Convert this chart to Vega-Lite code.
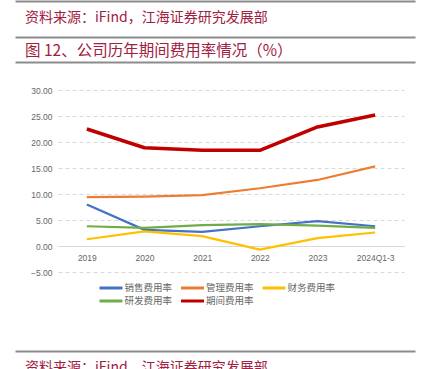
{
  "$schema": "https://vega.github.io/schema/vega-lite/v6.json",
  "background": "white",
  "padding": {"left": 15, "top": 0, "right": 9, "bottom": 0},
  "config": {"font": "Noto Sans CJK SC"},
  "spacing": 11,
  "resolve": {"scale": {"color": "independent"}, "legend": {"color": "independent"}},
  "vconcat": [
    {
      "width": 346, "height": 1,
      "view": {"stroke": null},
      "data": {"values": [{}]},
      "mark": {"type": "point", "opacity": 0, "size": 0, "strokeWidth": 0},
      "encoding": {"x": {"datum": 0, "type": "quantitative", "scale": {"domain": [0, 1], "range": [-43, 357]}, "axis": {"orient": "bottom", "title": null, "labels": false, "ticks": false, "grid": false, "domainColor": "#8c8c8c", "domainWidth": 2}}},
      "title": {"text": "资料来源：iFind，江海证券研究发展部", "frame": "bounds", "orient": "bottom", "anchor": "start", "offset": 10, "dx": 10, "fontSize": 14, "font": "Noto Sans CJK SC", "fontWeight": "normal", "color": "#A0203F"}
    },
    {
      "spacing": 1,
      "resolve": {"scale": {"color": "independent"}, "legend": {"color": "independent"}},
      "vconcat": [
        {
          "width": 346, "height": 1,
          "view": {"stroke": null},
          "data": {"values": [{}]},
          "mark": {"type": "point", "opacity": 0, "size": 0, "strokeWidth": 0},
          "encoding": {"x": {"datum": 0, "type": "quantitative", "scale": {"domain": [0, 1], "range": [-43, 357]}, "axis": {"orient": "bottom", "title": null, "labels": false, "ticks": false, "grid": false, "domainColor": "#8c8c8c", "domainWidth": 2}}},
          "title": {"text": "图 12、公司历年期间费用率情况（%）", "frame": "bounds", "orient": "bottom", "anchor": "start", "offset": 7, "dx": 10, "fontSize": 15.5, "font": "Noto Sans CJK SC", "fontWeight": "normal", "color": "#A0203F"}
        },
        {
          "spacing": 24,
          "resolve": {"scale": {"color": "independent"}, "legend": {"color": "independent"}},
          "vconcat": [
            {
              "width": 346, "height": 1,
              "view": {"stroke": null},
              "data": {"values": [{}]},
              "mark": {"type": "point", "opacity": 0, "size": 0, "strokeWidth": 0},
              "encoding": {"x": {"datum": 0, "type": "quantitative", "scale": {"domain": [0, 1], "range": [-43, 357]}, "axis": {"orient": "bottom", "title": null, "labels": false, "ticks": false, "grid": false, "domainColor": "#8c8c8c", "domainWidth": 2}}}
            },
            {
              "spacing": 43,
              "resolve": {"scale": {"color": "independent"}, "legend": {"color": "independent"}},
              "vconcat": [
                {
                  "width": 346, "height": 182,
                  "view": {"stroke": null},
                  "data": {"values": [
                    {"year": "2019", "series": "销售费用率", "value": 8.0},
                    {"year": "2020", "series": "销售费用率", "value": 3.1},
                    {"year": "2021", "series": "销售费用率", "value": 2.7},
                    {"year": "2022", "series": "销售费用率", "value": 3.8},
                    {"year": "2023", "series": "销售费用率", "value": 4.8},
                    {"year": "2024Q1-3", "series": "销售费用率", "value": 3.8},
                    {"year": "2019", "series": "管理费用率", "value": 9.4},
                    {"year": "2020", "series": "管理费用率", "value": 9.5},
                    {"year": "2021", "series": "管理费用率", "value": 9.8},
                    {"year": "2022", "series": "管理费用率", "value": 11.1},
                    {"year": "2023", "series": "管理费用率", "value": 12.7},
                    {"year": "2024Q1-3", "series": "管理费用率", "value": 15.3},
                    {"year": "2019", "series": "财务费用率", "value": 1.3},
                    {"year": "2020", "series": "财务费用率", "value": 2.8},
                    {"year": "2021", "series": "财务费用率", "value": 1.9},
                    {"year": "2022", "series": "财务费用率", "value": -0.7},
                    {"year": "2023", "series": "财务费用率", "value": 1.5},
                    {"year": "2024Q1-3", "series": "财务费用率", "value": 2.6},
                    {"year": "2019", "series": "研发费用率", "value": 3.8},
                    {"year": "2020", "series": "研发费用率", "value": 3.5},
                    {"year": "2021", "series": "研发费用率", "value": 4.0},
                    {"year": "2022", "series": "研发费用率", "value": 4.2},
                    {"year": "2023", "series": "研发费用率", "value": 3.9},
                    {"year": "2024Q1-3", "series": "研发费用率", "value": 3.5},
                    {"year": "2019", "series": "期间费用率", "value": 22.5},
                    {"year": "2020", "series": "期间费用率", "value": 18.9},
                    {"year": "2021", "series": "期间费用率", "value": 18.4},
                    {"year": "2022", "series": "期间费用率", "value": 18.4},
                    {"year": "2023", "series": "期间费用率", "value": 22.9},
                    {"year": "2024Q1-3", "series": "期间费用率", "value": 25.2}
                  ]},
                  "encoding": {
                    "x": {
                      "field": "year", "type": "ordinal",
                      "sort": ["2019", "2020", "2021", "2022", "2023", "2024Q1-3"],
                      "scale": {"type": "point", "padding": 0.5},
                      "axis": {"title": null, "labelAngle": 0, "offset": -26, "ticks": false, "grid": false, "domainColor": "#d9d9d9", "domainWidth": 1, "labelPadding": 7, "labelFontSize": 8.5, "labelColor": "#666666", "labelFont": "Liberation Sans"}
                    },
                    "y": {
                      "field": "value", "type": "quantitative",
                      "scale": {"domain": [-5, 30], "nice": false, "zero": false},
                      "axis": {"title": null, "values": [-5, 0, 5, 10, 15, 20, 25, 30], "format": ".2f", "domain": false, "ticks": false, "labelPadding": 6, "minExtent": 43, "labelFontSize": 8.5, "labelColor": "#666666", "labelFont": "Liberation Sans", "gridColor": "#d9d9d9", "gridDash": [4, 3], "gridWidth": 1}
                    },
                    "color": {
                      "field": "series", "type": "nominal",
                      "scale": {"domain": ["销售费用率", "管理费用率", "财务费用率", "研发费用率", "期间费用率"], "range": ["#4472C4", "#ED7D31", "#FFC000", "#70AD47", "#C00000"]},
                      "legend": {"title": null, "orient": "none", "legendX": 40, "legendY": 191, "padding": 0, "direction": "horizontal", "columns": 3, "symbolType": "M-1,0H3.18", "symbolSize": 121, "symbolStrokeWidth": 3, "labelFontSize": 9.5, "labelColor": "#666666", "labelFont": "Noto Sans CJK SC", "labelOffset": 12.5, "columnPadding": 1.5, "rowPadding": -7.5}
                    }
                  },
                  "layer": [
                    {
                      "transform": [{"filter": "datum.series !== '期间费用率'"}],
                      "mark": {"type": "line", "strokeWidth": 2.2, "strokeJoin": "round"}
                    },
                    {
                      "transform": [{"filter": "datum.series === '期间费用率'"}],
                      "mark": {"type": "line", "strokeWidth": 3.5, "strokeJoin": "round"}
                    }
                  ]
                },
                {
                  "width": 346, "height": 1,
                  "view": {"stroke": null},
                  "data": {"values": [{}]},
                  "mark": {"type": "point", "opacity": 0, "size": 0, "strokeWidth": 0},
                  "encoding": {"x": {"datum": 0, "type": "quantitative", "scale": {"domain": [0, 1], "range": [-43, 357]}, "axis": {"orient": "bottom", "title": null, "labels": false, "ticks": false, "grid": false, "domainColor": "#8c8c8c", "domainWidth": 2}}},
                  "title": {"text": "资料来源：iFind，江海证券研究发展部", "frame": "bounds", "orient": "bottom", "anchor": "start", "offset": 10, "dx": 10, "fontSize": 14, "font": "Noto Sans CJK SC", "fontWeight": "normal", "color": "#A0203F"}
                }
              ]
            }
          ]
        }
      ]
    }
  ]
}
